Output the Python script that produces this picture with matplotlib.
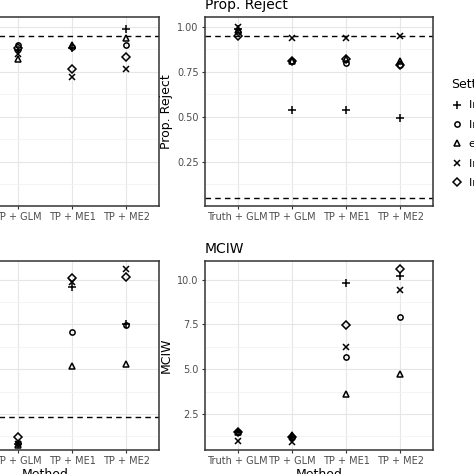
import matplotlib
matplotlib.use("Agg")
import matplotlib.pyplot as plt
from matplotlib.ticker import MultipleLocator

methods = ["Truth + GLM", "TP + GLM", "TP + ME1", "TP + ME2"]
settings = ["Indep. A", "Indep. B", "exch.", "Int. A", "Int. B"]
marker_list = ["+", "o", "^", "x", "D"]

# values per setting (rows) across methods (columns)
coverage = [
    [0.95, 0.87, 0.88, 0.99],
    [0.95, 0.90, 0.885, 0.90],
    [0.95, 0.82, 0.90, 0.94],
    [0.95, 0.85, 0.72, 0.765],
    [0.95, 0.88, 0.765, 0.83],
]
bias = [
    [0.8, 0.8, 9.6, 7.55],
    [0.9, 0.9, 7.1, 7.45],
    [0.75, 0.75, 5.2, 5.3],
    [0.85, 0.85, 9.87, 10.6],
    [1.2, 1.2, 10.1, 10.15],
]
prop_reject = [
    [0.99, 0.54, 0.54, 0.495],
    [0.97, 0.81, 0.80, 0.79],
    [0.98, 0.81, 0.82, 0.81],
    [1.00, 0.94, 0.94, 0.95],
    [0.95, 0.81, 0.82, 0.785],
]
mciw = [
    [1.5, 1.2, 9.8, 10.2],
    [1.5, 1.2, 5.7, 7.9],
    [1.5, 1.3, 3.6, 4.75],
    [1.0, 0.95, 6.25, 9.4],
    [1.5, 1.2, 7.45, 10.6],
]

fig = plt.figure(figsize=(4.74, 4.74), dpi=100)
W = 474.0

def msize(m):
    return {"o": 3.8, "D": 3.8, "x": 4.8, "+": 6, "^": 4.5}[m]

def make_ax(x0, y0, x1, y1):
    return fig.add_axes([x0 / W, 1 - y1 / W, (x1 - x0) / W, (y1 - y0) / W])

def draw(ax, data, ylim, hlines, title, ylabel, xlabel, yticks):
    for vals, m in zip(data, marker_list):
        ax.plot(range(len(methods)), vals, linestyle="none", marker=m,
                markersize=msize(m), markerfacecolor="none", markeredgecolor="black",
                markeredgewidth=1.1, color="black")
    for h in hlines:
        ax.axhline(h, color="black", linestyle=(0, (4, 3)), linewidth=1)
    ax.set_xlim(-0.6, 3.6)
    ax.set_ylim(*ylim)
    ax.set_xticks(range(len(methods)))
    ax.set_xticklabels(methods)
    ax.yaxis.set_major_locator(MultipleLocator(yticks))
    ax.yaxis.set_minor_locator(MultipleLocator(yticks / 2))
    ax.grid(True, which="major", color="#e6e6e6", linewidth=0.8)
    ax.grid(True, which="minor", axis="y", color="#f2f2f2", linewidth=0.6)
    ax.set_axisbelow(True)
    ax.tick_params(labelsize=7, labelcolor="#4d4d4d", length=2.5, color="#333333", pad=2)
    ax.tick_params(which="minor", length=0)
    for s in ax.spines.values():
        s.set_color("#333333")
        s.set_linewidth(1.1)
    ax.set_title(title, loc="left", fontsize=10, pad=6)
    ax.set_ylabel(ylabel, fontsize=9, labelpad=3)
    if xlabel:
        ax.set_xlabel(xlabel, fontsize=9, labelpad=1)

ax1 = make_ax(-69, 17, 159, 206)
draw(ax1, coverage, (0.005, 1.054), [0.95], "Coverage", "Coverage", None, 0.25)
ax2 = make_ax(205, 17, 433, 206)
draw(ax2, prop_reject, (0.005, 1.054), [0.95, 0.05], "Prop. Reject", "Prop. Reject", None, 0.25)
ax3 = make_ax(-69, 261, 159, 450)
draw(ax3, bias, (0.49, 11.04), [2.33], "Rel. Bias", "Rel. Bias", "Method", 2.5)
ax4 = make_ax(205, 261, 433, 450)
draw(ax4, mciw, (0.49, 11.04), [], "MCIW", "MCIW", "Method", 2.5)

handles = [plt.Line2D([], [], linestyle="none", marker=m, markersize=msize(m),
                      markerfacecolor="none", markeredgecolor="black",
                      markeredgewidth=1.1) for m in marker_list]
fig.legend(handles, settings, title="Setting", loc="upper left",
           bbox_to_anchor=(441 / W, 1 - 68 / W), frameon=False, fontsize=8,
           title_fontsize=9, alignment="left", handletextpad=0.6,
           handlelength=1.0, labelspacing=0.85)

fig.savefig("out.png", dpi=100)
